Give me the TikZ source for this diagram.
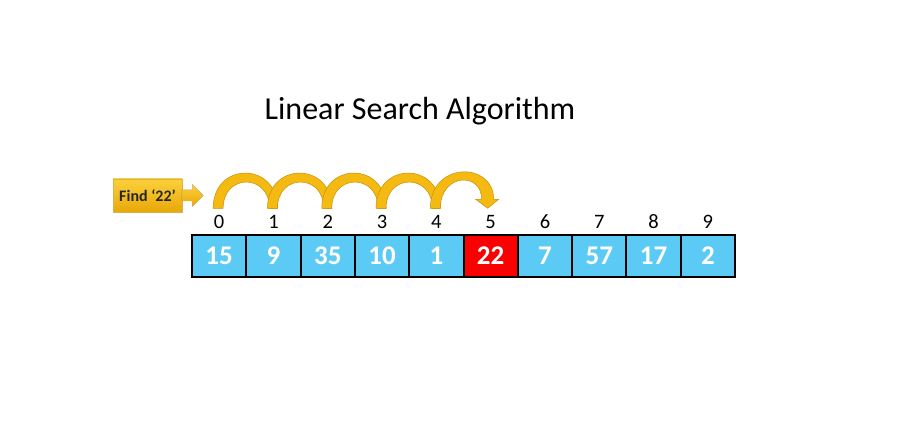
\documentclass[tikz,border=0pt]{standalone}
\usepackage{fontspec}
\setmainfont{Carlito}
\usetikzlibrary{positioning}

\definecolor{cellblue}{RGB}{91,203,245}
\definecolor{hitred}{RGB}{250,0,0}
\definecolor{hopgold}{RGB}{245,186,18}
\definecolor{hopdark}{RGB}{200,145,5}
\definecolor{tagtop}{RGB}{252,208,60}
\definecolor{tagbottom}{RGB}{232,168,8}

\begin{document}
\begin{tikzpicture}[x=1pt, y=1pt, node distance=54.3pt,
    cell/.style={draw=black, line width=2pt, fill=cellblue, minimum width=54.3pt, minimum height=42pt,
        inner sep=0pt, text=white, font=\fontsize{27}{27}\selectfont\bfseries},
    found/.style={cell, fill=hitred},
    idx/.style={font=\fontsize{20.5}{20.5}\selectfont, text height=13pt, text depth=0pt,
        inner xsep=1pt, inner ysep=7pt},
    hop/.style={fill=hopgold, draw=hopdark, line width=0.5pt},
    tag/.style={top color=tagtop, bottom color=tagbottom, draw=hopdark!70, line width=0.4pt}]
                \useasboundingbox (0,0) rectangle (917,442);
                \node [anchor=base] (title) at (420,322.5) {\fontsize{32}{32}\selectfont Linear Search Algorithm};
                % the array
                \node [cell] (c0) at (219.15,186) {15};
                \node [cell, right of = c0] (c1) {9};
                \node [cell, right of = c1] (c2) {35};
                \node [cell, right of = c2] (c3) {10};
                \node [cell, right of = c3] (c4) {1};
                \node [found, right of = c4] (c5) {22};
                \node [cell, right of = c5] (c6) {7};
                \node [cell, right of = c6] (c7) {57};
                \node [cell, right of = c7] (c8) {17};
                \node [cell, right of = c8] (c9) {2};
                % indices
                \node [idx, above of = c0, node distance=34pt] (i0) {0};
                \node [idx, above of = c1, node distance=34pt] (i1) {1};
                \node [idx, above of = c2, node distance=34pt] (i2) {2};
                \node [idx, above of = c3, node distance=34pt] (i3) {3};
                \node [idx, above of = c4, node distance=34pt] (i4) {4};
                \node [idx, above of = c5, node distance=34pt] (i5) {5};
                \node [idx, above of = c6, node distance=34pt] (i6) {6};
                \node [idx, above of = c7, node distance=34pt] (i7) {7};
                \node [idx, above of = c8, node distance=34pt] (i8) {8};
                \node [idx, above of = c9, node distance=34pt] (i9) {9};
                % the key
                \node [tag, minimum width=69pt, minimum height=33pt, font=\fontsize{16}{16}\selectfont\bfseries, text=black!85] (find) at (147.5,246.5) {Find ‘22’};
                \fill [tag] ([xshift=-0.4pt, yshift=5.5pt]find.east) -- ++(10.4,0) -- ++(0,5.5) -- ++(11,-11) -- ++(-11,-11) -- ++(0,5.5) -- ([xshift=-0.4pt, yshift=-5.5pt]find.east) -- cycle;
                % the hops
                \foreach \a/\b in {0/1,1/2,2/3,3/4}
                    \draw [hop] ([xshift=-6pt]i\a.north) .. controls +(0,47) and +(0,47) .. ([xshift=4pt]i\b.north) -- ([xshift=-4pt]i\b.north) .. controls +(0,35) and +(0,35) .. ([xshift=4pt]i\a.north) -- cycle;
                \draw [hop] ([xshift=-6pt]i4.north) .. controls +(0,47) and +(0,38) .. ([xshift=3pt, yshift=9pt]i5.north) -- ++(5,0) -- ([xshift=-3pt]i5.north) -- ([xshift=-15pt, yshift=9pt]i5.north) -- ++(6,0) .. controls +(0,28) and +(0,35) .. ([xshift=4pt]i4.north) -- cycle;
            \end{tikzpicture}
\end{document}
